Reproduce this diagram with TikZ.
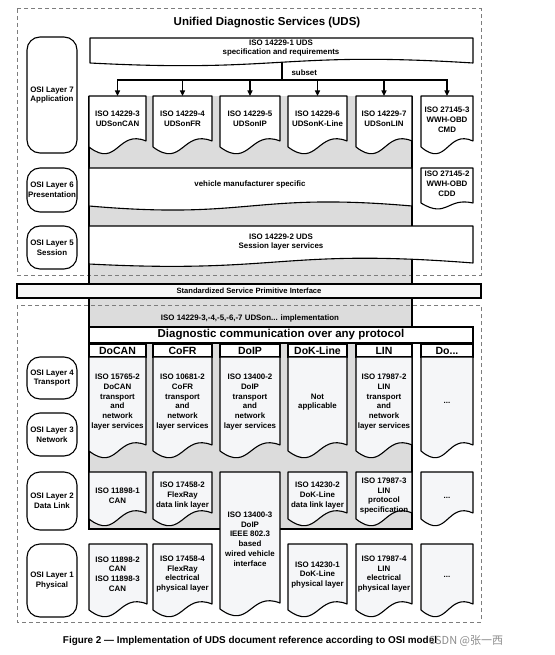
\documentclass[tikz,border=0pt]{standalone}
\usepackage{fontspec}
\setmainfont{Liberation Sans}
\newfontfamily\cjk{Noto Sans CJK SC}
\usetikzlibrary{arrows.meta}
\definecolor{greyfill}{RGB}{220,220,220}
\definecolor{lightfill}{RGB}{245,246,248}
\definecolor{dashcol}{RGB}{125,125,125}
% #1 fill, #2 x0, #3 y0, #4 x1, #5 yL, #6 c1, #7 yR, #8 c2
\newcommand\docbox[8]{%
  \path[docsty,fill=#1] (#2,#3) -- (#4,#3) -- (#4,#7)
    .. controls ({(#2+#4)/2},{#7-#8}) and ({(#2+#4)/2},{#5+#6}) .. (#2,#5) -- cycle;}
% small document: #1 fill, #2 x0, #3 y0, #4 x1, #5 lowest y
\newcommand\sdoc[5]{\docbox{#1}{#2}{#3}{#4}{#5-6}{22}{#5-12}{12}}
\begin{document}
\begin{tikzpicture}[x=1pt,y=-1pt, line width=1.1pt,
  txt/.style={font=\bfseries\fontsize{7.9}{9.8}\selectfont, align=center, inner sep=0pt},
  osi/.style={draw, rounded corners=13pt, fill=white},
  docsty/.style={draw, line join=round},
  dashbox/.style={draw=dashcol, dash pattern=on 4pt off 3pt, line width=1pt},
  hdr/.style={draw, fill=white, inner sep=0pt, font=\bfseries\fontsize{10.5}{12}\selectfont},
  arr/.style={-{Triangle[length=5.5pt,width=5pt]}}
]
\useasboundingbox (0,0) rectangle (554,655);
\fill[white] (0,0) rectangle (554,655);

% grey column
\fill[greyfill] (89,96) rectangle (412,529);

% dashed frames
\draw[dashbox] (17,9) rectangle (481,275);
\draw[dashbox] (17,305) rectangle (481,622);

% grey column borders
\draw (89,96) -- (89,529) -- (412,529) -- (412,96);

% title
\node[font=\bfseries\fontsize{11.5}{13}\selectfont] (title) at (267,23) {Unified Diagnostic Services (UDS)};

% OSI layer labels
\node[osi, txt, minimum width=50pt, minimum height=116pt] (osi7) at (52,95) {OSI Layer 7\\Application};
\node[osi, txt, minimum width=50pt, minimum height=44pt] (osi6) at (52,190) {OSI Layer 6\\Presentation};
\node[osi, txt, minimum width=50pt, minimum height=43pt] (osi5) at (52,247.5) {OSI Layer 5\\Session};
\node[osi, txt, minimum width=50pt, minimum height=42pt] (osi4) at (52,378) {OSI Layer 4\\Transport};
\node[osi, txt, minimum width=50pt, minimum height=43pt] (osi3) at (52,434.5) {OSI Layer 3\\Network};
\node[osi, txt, minimum width=50pt, minimum height=58pt] (osi2) at (52,501) {OSI Layer 2\\Data Link};
\node[osi, txt, minimum width=50pt, minimum height=73pt] (osi1) at (52,580.5) {OSI Layer 1\\Physical};

% ISO 14229-1
\docbox{white}{90}{38}{473}{63}{10}{63}{12}
\node[txt] (uds1) at (281,48) {ISO 14229-1 UDS\\specification and requirements};

% subset tree
\coordinate (uds1b) at (282,62);
\coordinate (split) at (282,80);
\node[txt, anchor=west] (subset) at (291,73) {subset};
\coordinate (t1) at (117.5,96);
\coordinate (t2) at (182.5,96);
\coordinate (t3) at (250,96);
\coordinate (t4) at (317.5,96);
\coordinate (t5) at (384,96);
\coordinate (t6) at (447,96);
\draw (uds1b) -- (split);
\draw[arr] (split) -| (t1);
\draw[arr] (split) -| (t2);
\draw[arr] (split) -| (t3);
\draw[arr] (split) -| (t4);
\draw[arr] (split) -| (t5);
\draw[arr] (split) -| (t6);

% layer 7 documents
\sdoc{white}{89}{96}{146}{153}
\sdoc{white}{153}{96}{212}{153}
\sdoc{white}{220}{96}{280}{153}
\sdoc{white}{288}{96}{347}{153}
\sdoc{white}{356}{96}{412}{153}
\sdoc{white}{421}{96}{473}{153}
\node[txt] (l7a) at (117.5,119) {ISO 14229-3\\UDSonCAN};
\node[txt] (l7b) at (182.5,119) {ISO 14229-4\\UDSonFR};
\node[txt] (l7c) at (250,119) {ISO 14229-5\\UDSonIP};
\node[txt] (l7d) at (317.5,119) {ISO 14229-6\\UDSonK-Line};
\node[txt] (l7e) at (384,119) {ISO 14229-7\\UDSonLIN};
\node[txt] (l7f) at (447,119.5) {ISO 27145-3\\WWH-OBD\\CMD};

% layer 6
\docbox{white}{89}{168}{412}{206}{14}{206}{14}
\node[txt] (l6) at (250,184) {vehicle manufacturer specific};
\docbox{white}{421}{168}{473}{203}{16}{203}{6}
\node[txt] (l6f) at (447,184) {ISO 27145-2\\WWH-OBD\\CDD};

% layer 5
\docbox{white}{89}{226}{473}{264}{10}{263}{15}
\node[txt] (l5) at (281,242) {ISO 14229-2 UDS\\Session layer services};

% service primitive interface
\node[draw, fill=black!3, minimum width=464pt, minimum height=14pt, inner sep=0pt,
      font=\bfseries\fontsize{7.6}{9}\selectfont] (sspi) at (249,291) {Standardized Service Primitive Interface};
\draw (89,298) -- (89,305) (412,298) -- (412,305);

% implementation
\node[txt] (impl) at (250,318) {ISO 14229-3,-4,-5,-6,-7 UDSon... implementation};

% diagnostic communication
\node[draw, fill=white, minimum width=384pt, minimum height=16pt, inner sep=0pt,
      font=\bfseries\fontsize{11.5}{13}\selectfont] (diag) at (281,335) {Diagnostic communication over any protocol};

% protocol headers
\node[hdr, minimum width=57pt, minimum height=13pt] (h1) at (117.5,350.5) {DoCAN};
\node[hdr, minimum width=59pt, minimum height=13pt] (h2) at (182.5,350.5) {CoFR};
\node[hdr, minimum width=60pt, minimum height=13pt] (h3) at (250,350.5) {DoIP};
\node[hdr, minimum width=59pt, minimum height=13pt] (h4) at (317.5,350.5) {DoK-Line};
\node[hdr, minimum width=56pt, minimum height=13pt] (h5) at (384,350.5) {LIN};
\node[hdr, minimum width=52pt, minimum height=13pt] (h6) at (447,350.5) {Do...};

% layer 4/3 documents
\sdoc{lightfill}{89}{357}{146}{457}
\sdoc{lightfill}{153}{357}{212}{457}
\sdoc{lightfill}{220}{357}{280}{457}
\sdoc{lightfill}{288}{357}{347}{457}
\sdoc{lightfill}{356}{357}{412}{457}
\sdoc{lightfill}{421}{357}{473}{457}
\node[txt] (l4a) at (117.5,402) {ISO 15765-2\\DoCAN\\transport\\and\\network\\layer services};
\node[txt] (l4b) at (182.5,402) {ISO 10681-2\\CoFR\\transport\\and\\network\\layer services};
\node[txt] (l4c) at (250,402) {ISO 13400-2\\DoIP\\transport\\and\\network\\layer services};
\node[txt] (l4d) at (317.5,402) {Not\\applicable};
\node[txt] (l4e) at (384,402) {ISO 17987-2\\LIN\\transport\\and\\network\\layer services};
\node[txt] (l4f) at (447,403) {...};

% layer 2 documents
\sdoc{lightfill}{89}{472}{146}{525}
\sdoc{lightfill}{153}{472}{212}{525}
\sdoc{lightfill}{288}{472}{347}{525}
\sdoc{lightfill}{356}{472}{412}{525}
\sdoc{lightfill}{421}{472}{473}{525}
\node[txt] (l2a) at (117.5,495.5) {ISO 11898-1\\CAN};
\node[txt] (l2b) at (182.5,495.5) {ISO 17458-2\\FlexRay\\data link layer};
\node[txt] (l2d) at (317.5,495.5) {ISO 14230-2\\DoK-Line\\data link layer};
\node[txt] (l2e) at (384,496) {ISO 17987-3\\LIN\\protocol\\specification};
\node[txt] (l2f) at (447,498) {...};

% DoIP tall document
\sdoc{lightfill}{220}{472}{280}{615}
\node[txt] (l2c) at (250,539) {ISO 13400-3\\DoIP\\IEEE 802.3\\based\\wired vehicle\\interface};

% layer 1 documents
\sdoc{lightfill}{89}{544}{147}{616}
\sdoc{lightfill}{153}{544}{212}{616}
\sdoc{lightfill}{288}{544}{347}{616}
\sdoc{lightfill}{356}{544}{412}{616}
\sdoc{lightfill}{421}{544}{473}{616}
\node[txt] (l1a) at (117.5,574) {ISO 11898-2\\CAN\\ISO 11898-3\\CAN};
\node[txt] (l1b) at (182.5,574) {ISO 17458-4\\FlexRay\\electrical\\physical layer};
\node[txt] (l1d) at (317.5,575) {ISO 14230-1\\DoK-Line\\physical layer};
\node[txt] (l1e) at (384,574) {ISO 17987-4\\LIN\\electrical\\physical layer};
\node[txt] (l1f) at (447,577) {...};

% caption
\node[font=\bfseries\fontsize{9.9}{11}\selectfont] (cap) at (250,641) {Figure 2 — Implementation of UDS document reference according to OSI model};
\node[text=black!45, font=\cjk\fontsize{11}{12}\selectfont, anchor=east] (wm) at (507,641) {CSDN @张一西};
\end{tikzpicture}
\end{document}
